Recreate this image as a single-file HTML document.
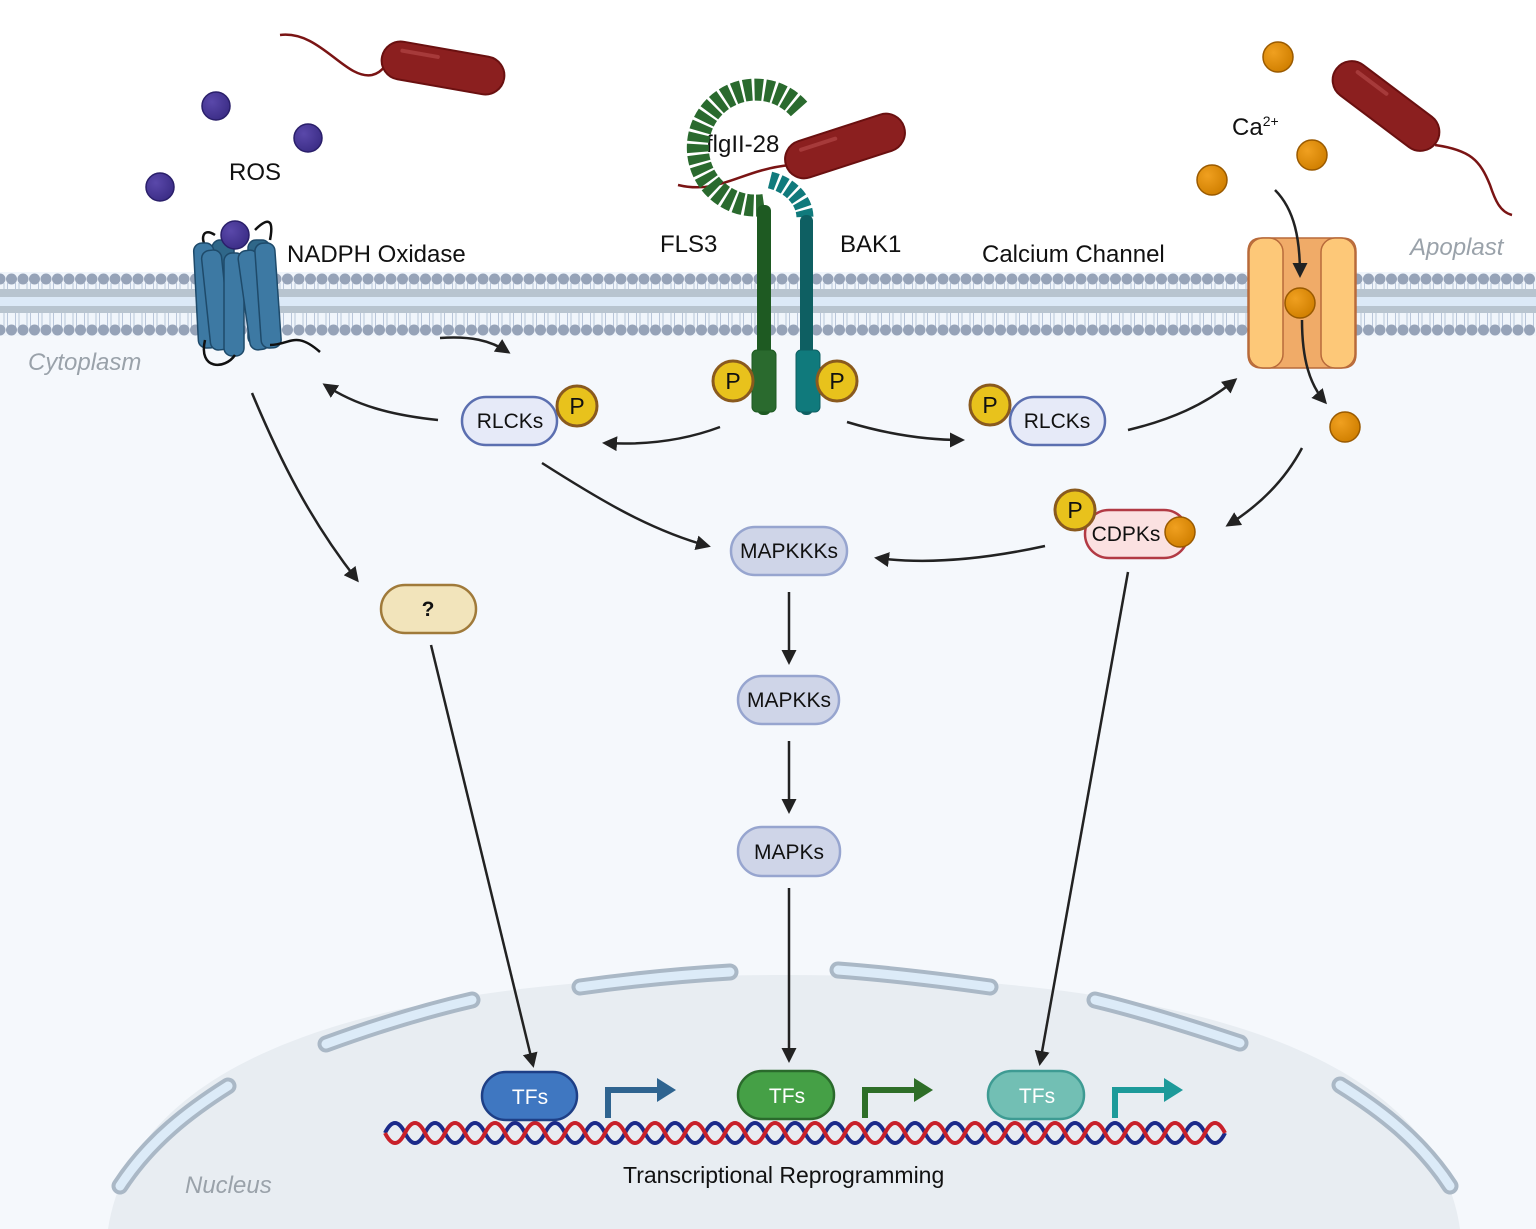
<!DOCTYPE html>
<html><head><meta charset="utf-8"><style>
html,body{margin:0;padding:0;background:#fff}
svg{display:block}
text{font-family:"Liberation Sans",sans-serif}
</style></head><body>
<svg width="1536" height="1229" viewBox="0 0 1536 1229" xmlns="http://www.w3.org/2000/svg">
<defs>
<pattern id="lip" x="0" y="283" width="11.5" height="44" patternUnits="userSpaceOnUse">
<line x1="4" y1="0" x2="4" y2="44" stroke="#b9c6da" stroke-width="1"/>
<line x1="7.5" y1="0" x2="7.5" y2="44" stroke="#b9c6da" stroke-width="1"/>
</pattern>
<marker id="ah" viewBox="0 0 10 10" refX="8" refY="5" markerWidth="6" markerHeight="6" orient="auto-start-reverse"><path d="M0,0 L10,5 L0,10 z" fill="#222"/></marker>
<radialGradient id="ca" cx="0.35" cy="0.35" r="0.7"><stop offset="0" stop-color="#f0a020"/><stop offset="1" stop-color="#d07f00"/></radialGradient>
<radialGradient id="ros" cx="0.35" cy="0.35" r="0.7"><stop offset="0" stop-color="#5a48aa"/><stop offset="1" stop-color="#3b2d86"/></radialGradient>
</defs>
<rect x="0" y="0" width="1536" height="1229" fill="#ffffff"/>
<rect x="0" y="300" width="1536" height="929" fill="#f5f8fc"/>
<path d="M108,1229 C140,1020 480,975 784,975 C1090,975 1430,1020 1460,1229 Z" fill="#e8edf2"/>
<g stroke-linecap="round" fill="none">
<g stroke="#aab8c6" stroke-width="17">
<path d="M120,1186 C150,1140 190,1110 228,1086"/>
<path d="M326,1044 C370,1028 420,1012 472,1000"/>
<path d="M580,987 C630,980 680,975 730,972"/>
<path d="M838,970 C890,974 940,980 990,987"/>
<path d="M1095,1000 C1145,1012 1195,1028 1240,1043"/>
<path d="M1340,1085 C1380,1110 1420,1140 1450,1186"/>
</g>
<g stroke="#dcebf8" stroke-width="9">
<path d="M120,1186 C150,1140 190,1110 228,1086"/>
<path d="M326,1044 C370,1028 420,1012 472,1000"/>
<path d="M580,987 C630,980 680,975 730,972"/>
<path d="M838,970 C890,974 940,980 990,987"/>
<path d="M1095,1000 C1145,1012 1195,1028 1240,1043"/>
<path d="M1340,1085 C1380,1110 1420,1140 1450,1186"/>
</g>
</g>
<!-- membrane -->
<rect x="0" y="272" width="1536" height="64" fill="#f0f5fb"/>
<rect x="0" y="283" width="1536" height="44" fill="url(#lip)"/>
<rect x="0" y="289" width="1536" height="8" fill="#b8c4cf"/>
<rect x="0" y="297" width="1536" height="9" fill="#dce9f7"/>
<rect x="0" y="306" width="1536" height="7" fill="#b8c4cf"/>
<line x1="0" y1="279" x2="1536" y2="279" stroke="#96a3b8" stroke-width="11" stroke-dasharray="0 11.5" stroke-linecap="round"/>
<line x1="0" y1="330" x2="1536" y2="330" stroke="#96a3b8" stroke-width="11" stroke-dasharray="0 11.5" stroke-linecap="round"/>

<g font-size="24" fill="#111">
<text x="229" y="180">ROS</text>
<text x="287" y="262">NADPH Oxidase</text>
<text x="706" y="152">flgII-28</text>
<text x="660" y="252">FLS3</text>
<text x="840" y="252">BAK1</text>
<text x="982" y="262">Calcium Channel</text>
<text x="1232" y="135">Ca<tspan font-size="14" dy="-9">2+</tspan></text>
<text x="623" y="1183" font-size="23">Transcriptional Reprogramming</text>
</g>
<g font-size="24" fill="#9aa2aa" font-style="italic">
<text x="1410" y="255">Apoplast</text>
<text x="28" y="370">Cytoplasm</text>
<text x="185" y="1193">Nucleus</text>
</g>

<g>
<path d="M280,35 C320,30 345,80 372,75 C385,72 385,60 395,65" fill="none" stroke="#7a1414" stroke-width="2.5"/>
<g transform="translate(443,68) rotate(10)"><rect x="-62" y="-19" width="124" height="38" rx="19" fill="#8b1f1f" stroke="#6a1010" stroke-width="2"/><rect x="-45" y="-12" width="40" height="4" rx="2" fill="#a63a3a"/></g>
<path d="M678,185 C720,195 740,170 790,165" fill="none" stroke="#7a1414" stroke-width="2.5"/>
<g transform="translate(845,146) rotate(-18)"><rect x="-62" y="-19" width="124" height="38" rx="19" fill="#8b1f1f" stroke="#6a1010" stroke-width="2"/><rect x="-45" y="-12" width="40" height="4" rx="2" fill="#a63a3a"/></g>
<path d="M1435,145 C1470,150 1480,160 1490,185 C1495,200 1500,212 1512,215" fill="none" stroke="#7a1414" stroke-width="2.5"/>
<g transform="translate(1386,106) rotate(37)"><rect x="-62" y="-19" width="124" height="38" rx="19" fill="#8b1f1f" stroke="#6a1010" stroke-width="2"/><rect x="-45" y="-12" width="40" height="4" rx="2" fill="#a63a3a"/></g>
</g>

<g fill="url(#ros)" stroke="#2a1f6a" stroke-width="1.5">
<circle cx="216" cy="106" r="14"/><circle cx="308" cy="138" r="14"/><circle cx="160" cy="187" r="14"/>
</g>

<g stroke="#1e4a6a" stroke-width="1.5" fill="#3d79a3">
<path d="M215,235 C200,225 200,245 210,250" fill="none" stroke="#111" stroke-width="2.5"/>
<path d="M255,230 C265,220 275,215 270,240" fill="none" stroke="#111" stroke-width="2.5"/>
<rect x="212" y="240" width="22" height="105" rx="8" fill="#2f6789"/>
<rect x="248" y="240" width="22" height="105" rx="8" fill="#2f6789"/>
<rect x="196" y="243" width="20" height="105" rx="8" transform="rotate(-3 206 295)"/>
<rect x="206" y="250" width="20" height="100" rx="8" transform="rotate(-6 216 300)"/>
<rect x="224" y="253" width="20" height="103" rx="8"/>
<rect x="244" y="250" width="20" height="100" rx="8" transform="rotate(-8 254 300)"/>
<rect x="258" y="243" width="20" height="105" rx="8" transform="rotate(-4 268 295)"/>
<path d="M205,340 C198,370 225,370 235,355" fill="none" stroke="#111" stroke-width="2.5"/>
<path d="M270,345 C290,345 295,330 320,352" fill="none" stroke="#111" stroke-width="2.5"/>
<circle cx="235" cy="235" r="14" fill="url(#ros)" stroke="#2a1f6a"/>
</g>

<path d="M764,205 A58,58 0 1 1 800,110" fill="none" stroke="#2a6a2e" stroke-width="22" stroke-dasharray="8 2.5"/>
<path d="M770,180 C790,185 805,200 805,218" fill="none" stroke="#107a7c" stroke-width="17" stroke-dasharray="7 2.5"/>
<rect x="757" y="205" width="14" height="210" rx="6" fill="#1e5a22"/>
<rect x="752" y="350" width="24" height="62" rx="5" fill="#2a6a2e" stroke="#1e5a22"/>
<rect x="800" y="215" width="13" height="200" rx="6" fill="#0e5f62"/>
<rect x="796" y="350" width="24" height="62" rx="5" fill="#107a7c" stroke="#0e5f62"/>

<path d="M1262,238 L1342,238 Q1356,238 1356,252 L1356,354 Q1356,368 1342,368 L1262,368 Q1248,368 1248,354 L1248,252 Q1248,238 1262,238 Z" fill="#f0ab68" stroke="#b86a3a" stroke-width="1.5"/>
<rect x="1249" y="238" width="34" height="130" rx="14" fill="#fdc878" stroke="#b86a3a" stroke-width="1.5"/>
<rect x="1321" y="238" width="34" height="130" rx="14" fill="#fdc878" stroke="#b86a3a" stroke-width="1.5"/>

<g fill="url(#ca)" stroke="#9a5a00" stroke-width="1.5">
<circle cx="1278" cy="57" r="15"/><circle cx="1312" cy="155" r="15"/><circle cx="1212" cy="180" r="15"/>
<circle cx="1300" cy="303" r="15"/><circle cx="1345" cy="427" r="15"/>
</g>

<g fill="none" stroke="#222" stroke-width="2.5" marker-end="url(#ah)">
<path d="M1275,190 C1295,210 1300,240 1300,275"/>
<path d="M1302,320 C1302,360 1310,385 1325,402"/>
<path d="M252,393 C280,460 310,520 357,580"/>
<path d="M440,338 C470,336 490,340 508,352"/>
<path d="M438,420 C390,415 355,405 325,385"/>
<path d="M720,427 C680,442 640,445 605,443"/>
<path d="M542,463 C600,500 650,530 708,546"/>
<path d="M847,422 C880,432 920,440 962,440"/>
<path d="M1128,430 C1170,420 1205,405 1235,380"/>
<path d="M1302,448 C1285,480 1260,505 1228,525"/>
<path d="M1045,546 C990,558 930,565 877,558"/>
<path d="M789,592 L789,662"/>
<path d="M789,741 L789,811"/>
<path d="M789,888 L789,1060"/>
<path d="M431,645 L533,1065"/>
<path d="M1128,572 L1040,1063"/>
</g>

<g fill="none" stroke-width="4">
<path d="M385,1133 q10,-20 20,0 t20,0 t20,0 t20,0 t20,0 t20,0 t20,0 t20,0 t20,0 t20,0 t20,0 t20,0 t20,0 t20,0 t20,0 t20,0 t20,0 t20,0 t20,0 t20,0 t20,0 t20,0 t20,0 t20,0 t20,0 t20,0 t20,0 t20,0 t20,0 t20,0 t20,0 t20,0 t20,0 t20,0 t20,0 t20,0 t20,0 t20,0 t20,0 t20,0 t20,0 t20,0" stroke="#1b2a8a"/>
<path d="M385,1133 q10,20 20,0 t20,0 t20,0 t20,0 t20,0 t20,0 t20,0 t20,0 t20,0 t20,0 t20,0 t20,0 t20,0 t20,0 t20,0 t20,0 t20,0 t20,0 t20,0 t20,0 t20,0 t20,0 t20,0 t20,0 t20,0 t20,0 t20,0 t20,0 t20,0 t20,0 t20,0 t20,0 t20,0 t20,0 t20,0 t20,0 t20,0 t20,0 t20,0 t20,0 t20,0 t20,0" stroke="#c8202a"/>
</g>

<g fill="none" stroke-width="6">
<path d="M608,1118 L608,1090 L660,1090" stroke="#2f6490"/>
<path d="M865,1118 L865,1090 L917,1090" stroke="#2e6e28"/>
<path d="M1115,1118 L1115,1090 L1167,1090" stroke="#1d9a9a"/>
</g>
<path d="M657,1078 L676,1090 L657,1102 Z" fill="#2f6490"/>
<path d="M914,1078 L933,1090 L914,1102 Z" fill="#2e6e28"/>
<path d="M1164,1078 L1183,1090 L1164,1102 Z" fill="#1d9a9a"/>

<g font-size="21" text-anchor="middle" stroke-width="2.5">
<rect x="462" y="397" width="95" height="48" rx="24" fill="#e6eaf8" stroke="#5b6fb0"/>
<text x="510" y="428" fill="#111" stroke="none">RLCKs</text>
<rect x="1010" y="397" width="95" height="48" rx="24" fill="#e6eaf8" stroke="#5b6fb0"/>
<text x="1057" y="428" fill="#111" stroke="none">RLCKs</text>
<rect x="731" y="527" width="116" height="48" rx="24" fill="#cfd5e8" stroke="#97a5cf"/>
<text x="789" y="558" fill="#111" stroke="none">MAPKKKs</text>
<rect x="738" y="676" width="101" height="48" rx="24" fill="#cfd5e8" stroke="#97a5cf"/>
<text x="789" y="707" fill="#111" stroke="none">MAPKKs</text>
<rect x="738" y="827" width="102" height="49" rx="24" fill="#cfd5e8" stroke="#97a5cf"/>
<text x="789" y="859" fill="#111" stroke="none">MAPKs</text>
<rect x="381" y="585" width="95" height="48" rx="24" fill="#f2e4bb" stroke="#a07a3a"/>
<text x="428" y="616" fill="#111" stroke="none" font-weight="bold">?</text>
<rect x="1085" y="510" width="103" height="48" rx="24" fill="#fbe1e1" stroke="#b23a44"/>
<text x="1126" y="541" fill="#111" stroke="none">CDPKs</text>
<rect x="482" y="1072" width="95" height="48" rx="24" fill="#3f77c1" stroke="#1e3f86"/>
<text x="530" y="1104" fill="#fff" stroke="none">TFs</text>
<rect x="738" y="1071" width="96" height="48" rx="24" fill="#45a046" stroke="#2a6a2c"/>
<text x="787" y="1103" fill="#fff" stroke="none">TFs</text>
<rect x="988" y="1071" width="96" height="48" rx="24" fill="#72bfb4" stroke="#3e9b93"/>
<text x="1037" y="1103" fill="#fff" stroke="none">TFs</text>
</g>
<circle cx="1180" cy="532" r="15" fill="url(#ca)" stroke="#9a5a00" stroke-width="1.5"/>
<g fill="#e8c21c" stroke="#8a5a1e" stroke-width="3">
<circle cx="577" cy="406" r="20"/><circle cx="990" cy="405" r="20"/><circle cx="1075" cy="510" r="20"/>
<circle cx="733" cy="381" r="20"/><circle cx="837" cy="381" r="20"/>
</g>
<g font-size="23" text-anchor="middle" fill="#111">
<text x="577" y="414">P</text><text x="990" y="413">P</text><text x="1075" y="518">P</text>
<text x="733" y="389">P</text><text x="837" y="389">P</text>
</g>
</svg>
</body></html>
